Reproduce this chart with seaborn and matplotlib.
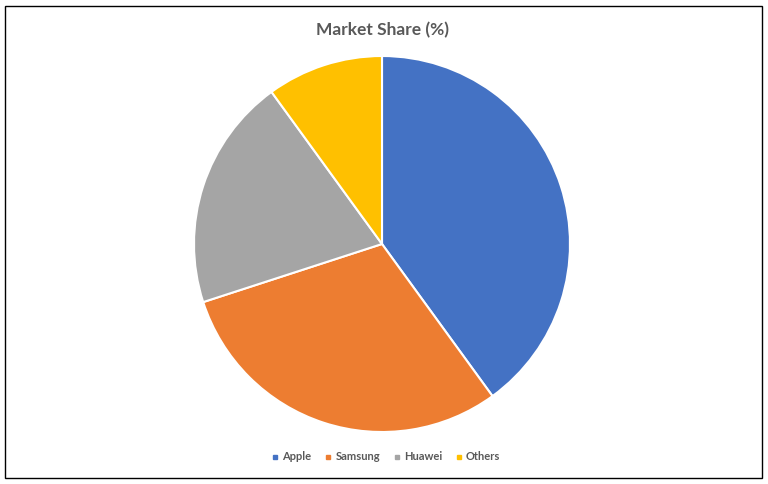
import matplotlib
matplotlib.use("Agg")
import matplotlib.pyplot as plt
import seaborn as sns
from matplotlib.patches import Rectangle
from matplotlib.lines import Line2D

categories = ["Apple", "Samsung", "Huawei", "Others"]
shares = [40, 30, 20, 10]
colors_hex = ["#4472C4", "#ED7D31", "#A5A5A5", "#FFC000"]

sns.set_theme(style="white")
plt.rcParams['font.family'] = ['Lato', 'DejaVu Sans']
palette = sns.color_palette(colors_hex)

W, H = 768, 484
fig = plt.figure(figsize=(W / 100, H / 100), dpi=100)
fig.patch.set_facecolor("white")

# outer border
fig.add_artist(Rectangle((5 / W, 6 / H), 757 / W, 472 / H, transform=fig.transFigure,
                         fill=False, edgecolor="black", linewidth=1.0))

cx, cy, r, half = 382, 244, 188, 200
ax = fig.add_axes([(cx - half) / W, (H - cy - half) / H, 2 * half / W, 2 * half / H])
ax.pie(shares, colors=palette, startangle=90, counterclock=False,
       wedgeprops=dict(edgecolor="white", linewidth=1.5))
lim = half / r
ax.set_xlim(-lim, lim)
ax.set_ylim(-lim, lim)
ax.set_axis_off()

fig.text(cx / W, 1 - 30 / H, "Market Share (%)", ha="center", va="center",
         fontsize=12.5, fontweight="bold", color="#595959")

handles = [Line2D([0], [0], marker="s", linestyle="none", markersize=3.5,
                  markerfacecolor=c, markeredgecolor=c) for c in palette]
fig.legend(handles, categories, loc="center", bbox_to_anchor=(385 / W, 1 - 457 / H),
           ncol=4, frameon=False, handletextpad=0.15, handlelength=1.0,
           columnspacing=1.0, labelcolor="#595959", prop=dict(weight="bold", size=8))

fig.savefig("out.png", dpi=100)
